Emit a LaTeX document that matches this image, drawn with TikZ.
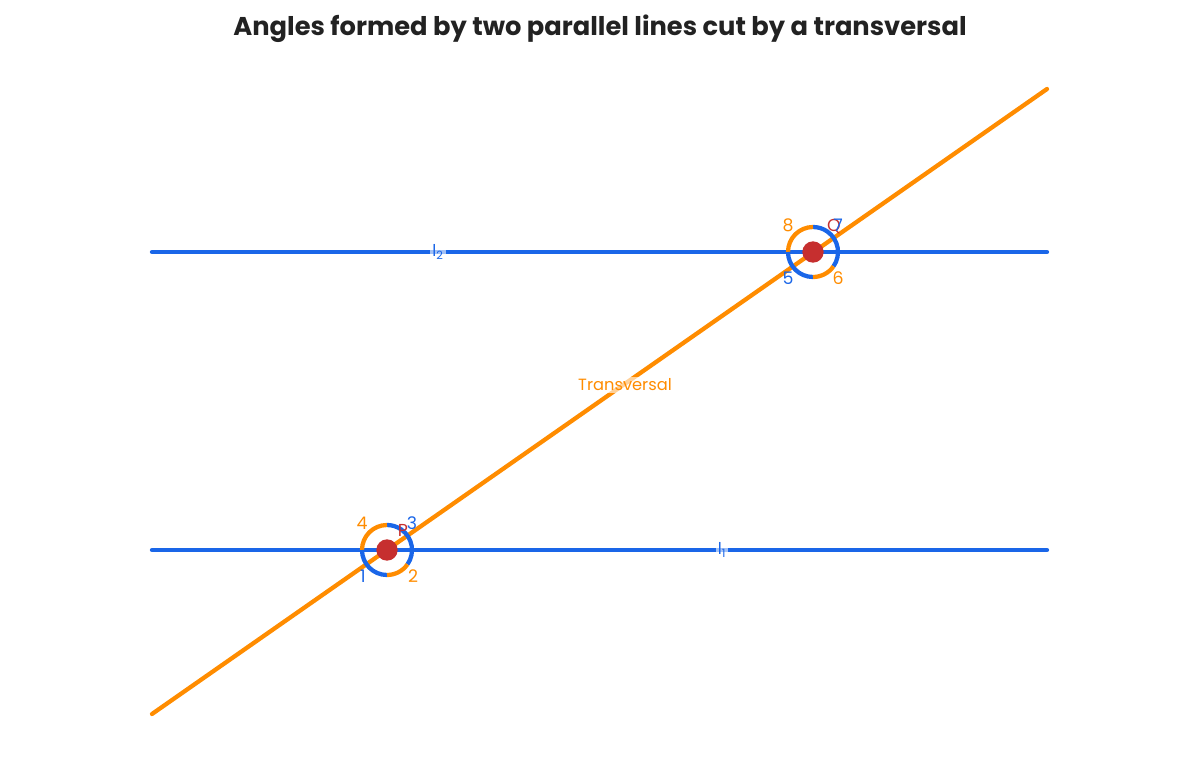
\documentclass[tikz,border=0pt]{standalone}
\usepackage{fontspec}
\setmainfont{Poppins}
\definecolor{lblue}{HTML}{1A66E8}
\definecolor{torange}{HTML}{FF8C00}
\definecolor{ptred}{HTML}{C62F2F}
\definecolor{titlec}{HTML}{222222}
\begin{document}
\begin{tikzpicture}[x=0.75pt,y=-0.75pt,
  pline/.style={line width=3.2pt,line cap=round},
  angarc/.style={line width=3.2pt},
  num/.style={font=\fontsize{13}{13}\selectfont,inner sep=0pt},
  tag/.style={font=\fontsize{12.2}{12.2}\selectfont,inner sep=1.5pt,fill=white,fill opacity=0.6,text opacity=1},
  ptdot/.style={circle,fill=ptred,minimum size=16pt,inner sep=0pt}]
\useasboundingbox (0,0) rectangle (1200,763);
% coordinates
\coordinate (l2a) at (152,252);
\coordinate (l2b) at (1047,252);
\coordinate (l1a) at (152,550);
\coordinate (l1b) at (1047,550);
\coordinate (ta) at (152,714);
\coordinate (tb) at (1047,89);
\coordinate (P) at (387,550);
\coordinate (Q) at (813,252);
% title
\node[font=\fontsize{19.3}{19.3}\selectfont\bfseries,text=titlec] (title) at (600,29) {Angles formed by two parallel lines cut by a transversal};
% lines
\draw[pline,lblue] (l2a) -- (l2b);
\draw[pline,lblue] (l1a) -- (l1b);
\draw[pline,torange] (ta) -- (tb);
% angle arcs
\foreach \c in {P,Q}{
  \draw[angarc,lblue] (\c) ++(35:25) arc[start angle=35,end angle=-90,radius=25];
  \draw[angarc,torange] (\c) ++(-90:25) arc[start angle=-90,end angle=-180,radius=25];
  \draw[angarc,lblue] (\c) ++(-180:25) arc[start angle=-180,end angle=-270,radius=25];
  \draw[angarc,torange] (\c) ++(90:25) arc[start angle=90,end angle=35,radius=25];
}
% points
\node[ptdot] (Pdot) at (P) {};
\node[ptdot] (Qdot) at (Q) {};
% labels at P
\node[num,text=torange] (n4) at (362,523) {4};
\node[num,text=lblue] (n3) at (412,523) {3};
\node[num,text=ptred] (nP) at (403,530) {P};
\node[num,text=lblue] (n1) at (363,576) {1};
\node[num,text=torange] (n2) at (413,576) {2};
% labels at Q
\node[num,text=torange] (n8) at (788,225) {8};
\node[num,text=ptred] (nQ) at (834,227) {Q};
\node[num,text=lblue] (n7) at (838,225) {7};
\node[num,text=lblue] (n5) at (788,278) {5};
\node[num,text=torange] (n6) at (838,278) {6};
% line tags
\node[tag,text=lblue] (tl2) at (438,252) {l\textsubscript{2}};
\node[tag,text=lblue] (tl1) at (722,550) {l\textsubscript{1}};
\node[tag,text=torange] (ttr) at (625,385) {Transversal};
\end{tikzpicture}
\end{document}
